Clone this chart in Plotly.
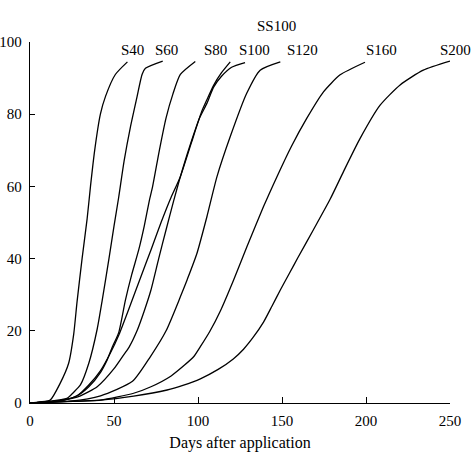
import plotly.graph_objects as go

# ---- data (days after application, value) ----
days_S40 = [0, 6, 12, 18, 23, 26, 28, 31, 34, 36, 38.5, 41.9, 45, 50.8, 58]
vals_S40 = [0, 0.3, 0.8, 5.5, 11, 19, 28, 40, 51, 60, 70, 80, 85, 91, 94.5]

days_S60 = [0, 10, 22, 26, 30, 35, 40, 43, 47, 50, 52.8, 56, 59.8, 63.7, 66.7, 68.7, 79]
vals_S60 = [0, 0.4, 1.3, 3, 5, 11, 20.5, 28.5, 40, 49, 57, 67, 76.5, 84.8, 91, 92.7, 94.7]

days_S80 = [0, 10, 20, 28, 35, 42, 46, 49, 52.8, 56.8, 60.5, 64.7, 68, 71, 73, 77, 81, 85, 89.5, 98.4]
vals_S80 = [0, 0.3, 0.8, 2, 4.5, 8.5, 12, 15.5, 19.5, 28.5, 35.5, 42.4, 49, 56, 60, 70, 79, 85.5, 91, 94.6]

days_SS100 = [0, 10, 20, 28, 35, 42, 48, 53, 60, 66, 72, 78, 84, 89.5, 96, 102, 105.3, 109.3, 114, 119.2]
vals_SS100 = [0, 0.3, 0.8, 2, 5, 9, 14, 19, 27.5, 35, 42.4, 50, 57, 62.7, 72, 80.5, 84, 88, 91.5, 94.5]

days_S100 = [0, 10, 20, 30, 40, 50, 56, 59, 63.7, 68, 72, 76.6, 81, 85.5, 89.5, 95, 101, 105.3, 109.3, 114, 120, 128]
vals_S100 = [0, 0.3, 0.8, 2, 4.5, 9.5, 13.5, 15.5, 20, 25.5, 31.3, 40, 48, 56, 62.7, 71, 79, 83, 87.5, 90.5, 93, 94.3]

days_S120 = [0, 24, 42, 61, 71.6, 81, 89.5, 93.5, 99.4, 105.3, 111.3, 119.2, 129, 137, 149]
vals_S120 = [0, 0.5, 2, 6, 12.8, 20, 29.4, 34.1, 41.5, 51.6, 62.7, 73.8, 85.8, 92.2, 94.5]

days_S160 = [0, 20, 42, 61.7, 72, 84, 92, 97.4, 101.4, 107, 113.3, 121.2, 129.1, 139, 147, 155.5, 164.8, 174.7, 184.6, 199.4]
vals_S160 = [0, 0.4, 0.8, 2.7, 4.5, 7.5, 10.5, 12.8, 15.6, 19.8, 25.5, 34.1, 43.3, 54.4, 62.7, 71, 78.9, 86.2, 90.9, 94.4]

days_S200 = [0, 20, 42, 61.7, 81.6, 91, 101.4, 112, 121, 127.1, 133, 139, 144, 149, 154.5, 159.5, 168.7, 178.7, 186.6, 196.5, 208.4, 220.3, 234.1, 250]
vals_S200 = [0, 0.4, 0.8, 1.9, 3.6, 4.9, 6.7, 9.3, 12.2, 14.9, 18.3, 22.4, 26.8, 31.3, 36, 40.3, 48, 56.5, 64.1, 73.3, 82.5, 88.1, 92.2, 94.7]

series_names = ["S40", "S60", "S80", "SS100", "S100", "S120", "S160", "S200"]
series_days = [days_S40, days_S60, days_S80, days_SS100, days_S100, days_S120, days_S160, days_S200]
series_vals = [vals_S40, vals_S60, vals_S80, vals_SS100, vals_S100, vals_S120, vals_S160, vals_S200]

x_ticks = [0, 50, 100, 150, 200, 250]
y_ticks = [0, 20, 40, 60, 80, 100]
x_title = "Days after application"

X_MAX = 250
Y_MAX = 100

# label placement (layout, in data units)
label_pos = {
    "S40": (60.8, 97.8), "S60": (81.2, 97.8), "S80": (110.3, 97.8),
    "S100": (133.5, 97.8), "SS100": (146.6, 104.4), "S120": (162.2, 97.8),
    "S160": (209.0, 97.8), "S200": (253.3, 97.8),
}

FONT = "Liberation Serif, Times New Roman, serif"

fig = go.Figure()
for name, d, v in zip(series_names, series_days, series_vals):
    fig.add_trace(go.Scatter(
        x=d, y=v, mode="lines", name=name,
        line=dict(color="black", width=1.3, shape="spline", smoothing=0.6),
        showlegend=False, hoverinfo="skip",
    ))

for name in series_names:
    lx, ly = label_pos[name]
    fig.add_annotation(x=lx / X_MAX, y=ly / Y_MAX, xref="paper", yref="paper", text=name,
                       showarrow=False, xanchor="center", yanchor="middle",
                       font=dict(family=FONT, size=15, color="black"))

fig.update_layout(
    width=474, height=474,
    margin=dict(l=29.5, r=24, t=42, b=71, autoexpand=False),
    paper_bgcolor="white", plot_bgcolor="white",
    font=dict(family=FONT, size=15, color="black"),
    xaxis=dict(
        range=[0, X_MAX], tickvals=x_ticks, ticktext=[str(t) for t in x_ticks],
        showline=True, linecolor="black", linewidth=1.3,
        ticks="inside", ticklen=6, tickwidth=1.3, tickcolor="black",
        showgrid=False, zeroline=False, automargin=False,
        tickfont=dict(family=FONT, size=15, color="black"),
        ticklabelstandoff=4,
        title=dict(text=x_title, font=dict(family=FONT, size=16, color="black"), standoff=8),
    ),
    yaxis=dict(
        range=[0, Y_MAX], tickvals=y_ticks, ticktext=[str(t) for t in y_ticks],
        showline=True, linecolor="black", linewidth=1.3,
        ticks="inside", ticklen=5, tickwidth=1.3, tickcolor="black",
        showgrid=False, zeroline=False, automargin=False,
        tickfont=dict(family=FONT, size=15, color="black"),
        ticklabelstandoff=4,
    ),
)

fig.write_html("out.html", config={"displayModeBar": False},
               post_script="document.body.style.margin='0';document.body.style.overflow='hidden';")
